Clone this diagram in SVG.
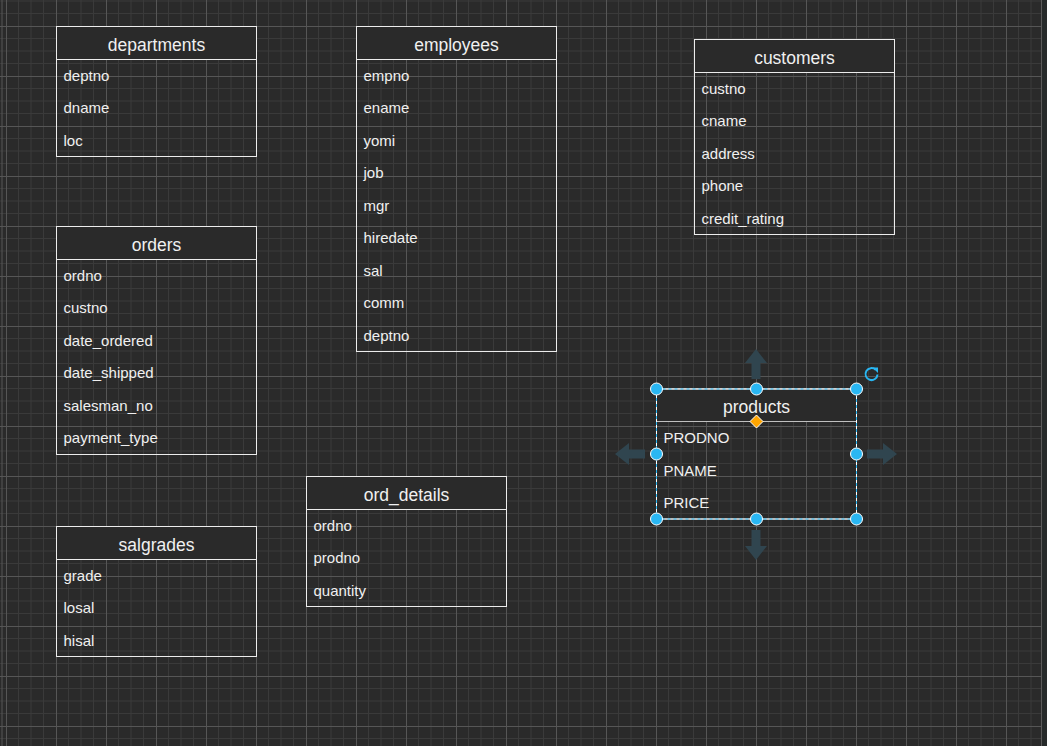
<svg xmlns="http://www.w3.org/2000/svg" width="1047" height="746" viewBox="0 0 1047 746">
  <style>
    .tbl { fill: none; stroke: #ececec; stroke-width: 1; }
    .hdr { fill: #2a2a2a; stroke: #ececec; stroke-width: 1; }
    .htxt { font-family: "Liberation Sans", Arial, Helvetica, sans-serif; font-size: 17.5px; fill: #f0f0f0; text-anchor: middle; }
    .rtxt { font-family: "Liberation Sans", Arial, Helvetica, sans-serif; font-size: 15px; fill: #f0f0f0; }
    .handle { fill: #29b6f2; stroke: #ffffff; stroke-width: 1; }
    .harrow { fill: #30454f; }
  </style>
  <defs>
    <pattern id="grid" x="6" y="26" width="50" height="50" patternUnits="userSpaceOnUse">
      <rect width="50" height="50" fill="#2a2a2a"/>
      <path d="M12.5 0V50M25 0V50M37.5 0V50M0 12.5H50M0 25H50M0 37.5H50" stroke="#3a3a3a" stroke-width="1" fill="none"/>
      <path d="M0.5 0V50M0 0.5H50" stroke="#565656" stroke-width="1" fill="none"/>
    </pattern>
    <path id="arrowUp" d="M0 0 L11 14 L4.5 14 L4.5 30 L-4.5 30 L-4.5 14 L-11 14 Z"/>
  </defs>

  <!-- canvas background -->
  <rect x="0" y="0" width="1047" height="746" fill="url(#grid)"/>
  <line x1="2" y1="0" x2="2" y2="746" stroke="#565656" stroke-width="1"/>
  <rect x="1041.5" y="0" width="5.5" height="746" fill="#262a2a"/>
  <line x1="1041.5" y1="0" x2="1041.5" y2="746" stroke="#5a5a5a" stroke-width="1"/>

  <g id="connectors"></g>

  <g id="departments">
    <rect class="tbl" x="56.5" y="26.5" width="200" height="130"/>
    <rect class="hdr" x="56.5" y="26.5" width="200" height="33"/>
    <text class="htxt" x="156.5" y="50.5">departments</text>
    <text class="rtxt" x="63.5" y="80.5">deptno</text>
    <text class="rtxt" x="63.5" y="113">dname</text>
    <text class="rtxt" x="63.5" y="145.5">loc</text>
  </g>

  <g id="employees">
    <rect class="tbl" x="356.5" y="26.5" width="200" height="325"/>
    <rect class="hdr" x="356.5" y="26.5" width="200" height="33"/>
    <text class="htxt" x="456.5" y="50.5">employees</text>
    <text class="rtxt" x="363.5" y="80.5">empno</text>
    <text class="rtxt" x="363.5" y="113">ename</text>
    <text class="rtxt" x="363.5" y="145.5">yomi</text>
    <text class="rtxt" x="363.5" y="178">job</text>
    <text class="rtxt" x="363.5" y="210.5">mgr</text>
    <text class="rtxt" x="363.5" y="243">hiredate</text>
    <text class="rtxt" x="363.5" y="275.5">sal</text>
    <text class="rtxt" x="363.5" y="308">comm</text>
    <text class="rtxt" x="363.5" y="340.5">deptno</text>
  </g>

  <g id="customers">
    <rect class="tbl" x="694.5" y="39.5" width="200" height="195"/>
    <rect class="hdr" x="694.5" y="39.5" width="200" height="33"/>
    <text class="htxt" x="794.5" y="63.5">customers</text>
    <text class="rtxt" x="701.5" y="93.5">custno</text>
    <text class="rtxt" x="701.5" y="126">cname</text>
    <text class="rtxt" x="701.5" y="158.5">address</text>
    <text class="rtxt" x="701.5" y="191">phone</text>
    <text class="rtxt" x="701.5" y="223.5">credit_rating</text>
  </g>

  <g id="orders">
    <rect class="tbl" x="56.5" y="226.5" width="200" height="228"/>
    <rect class="hdr" x="56.5" y="226.5" width="200" height="33"/>
    <text class="htxt" x="156.5" y="250.5">orders</text>
    <text class="rtxt" x="63.5" y="280.5">ordno</text>
    <text class="rtxt" x="63.5" y="313">custno</text>
    <text class="rtxt" x="63.5" y="345.5">date_ordered</text>
    <text class="rtxt" x="63.5" y="378">date_shipped</text>
    <text class="rtxt" x="63.5" y="410.5">salesman_no</text>
    <text class="rtxt" x="63.5" y="443">payment_type</text>
  </g>

  <g id="ord_details">
    <rect class="tbl" x="306.5" y="476.5" width="200" height="130"/>
    <rect class="hdr" x="306.5" y="476.5" width="200" height="33"/>
    <text class="htxt" x="406.5" y="500.5">ord_details</text>
    <text class="rtxt" x="313.5" y="530.5">ordno</text>
    <text class="rtxt" x="313.5" y="563">prodno</text>
    <text class="rtxt" x="313.5" y="595.5">quantity</text>
  </g>

  <g id="salgrades">
    <rect class="tbl" x="56.5" y="526.5" width="200" height="130"/>
    <rect class="hdr" x="56.5" y="526.5" width="200" height="33"/>
    <text class="htxt" x="156.5" y="550.5">salgrades</text>
    <text class="rtxt" x="63.5" y="580.5">grade</text>
    <text class="rtxt" x="63.5" y="613">losal</text>
    <text class="rtxt" x="63.5" y="645.5">hisal</text>
  </g>

  <g id="products">
    <rect x="656.5" y="389" width="200" height="130" fill="none" stroke="#c0c0c0" stroke-width="1"/>
    <rect x="656.5" y="389" width="200" height="32.5" fill="#2a2a2a" stroke="#c0c0c0" stroke-width="1"/>
    <text class="htxt" x="756.5" y="412.5">products</text>
    <text class="rtxt" x="663.5" y="443">PRODNO</text>
    <text class="rtxt" x="663.5" y="475.5">PNAME</text>
    <text class="rtxt" x="663.5" y="508">PRICE</text>
  </g>

  <g id="selection">
    <use href="#arrowUp" class="harrow" transform="translate(756,349)"/>
    <use href="#arrowUp" class="harrow" transform="translate(756,560) rotate(180)"/>
    <use href="#arrowUp" class="harrow" transform="translate(615,454) rotate(-90)"/>
    <use href="#arrowUp" class="harrow" transform="translate(897,454) rotate(90)"/>
    <rect x="656.5" y="389" width="200" height="130" fill="none" stroke="#ffffff" stroke-width="1"/>
    <rect x="656.5" y="389" width="200" height="130" fill="none" stroke="#29b6f2" stroke-width="1" stroke-dasharray="3 3"/>
    <circle class="handle" cx="656.5" cy="389" r="6"/>
    <circle class="handle" cx="756.5" cy="389" r="6"/>
    <circle class="handle" cx="856.5" cy="389" r="6"/>
    <circle class="handle" cx="656.5" cy="454" r="6"/>
    <circle class="handle" cx="856.5" cy="454" r="6"/>
    <circle class="handle" cx="656.5" cy="519" r="6"/>
    <circle class="handle" cx="756.5" cy="519" r="6"/>
    <circle class="handle" cx="856.5" cy="519" r="6"/>
    <path d="M756.5 415 L763 421.5 L756.5 428 L750 421.5 Z" fill="#ffa500" stroke="#ffffff" stroke-width="1"/>
    <g transform="translate(871.5,374)">
      <path d="M4.2 -4.2 A6 6 0 1 0 6 0.5" fill="none" stroke="#29b6f2" stroke-width="2"/>
      <path d="M1 -6.5 L6.5 -6.5 L6.5 -1 Z" fill="#29b6f2"/>
    </g>
  </g>
</svg>
